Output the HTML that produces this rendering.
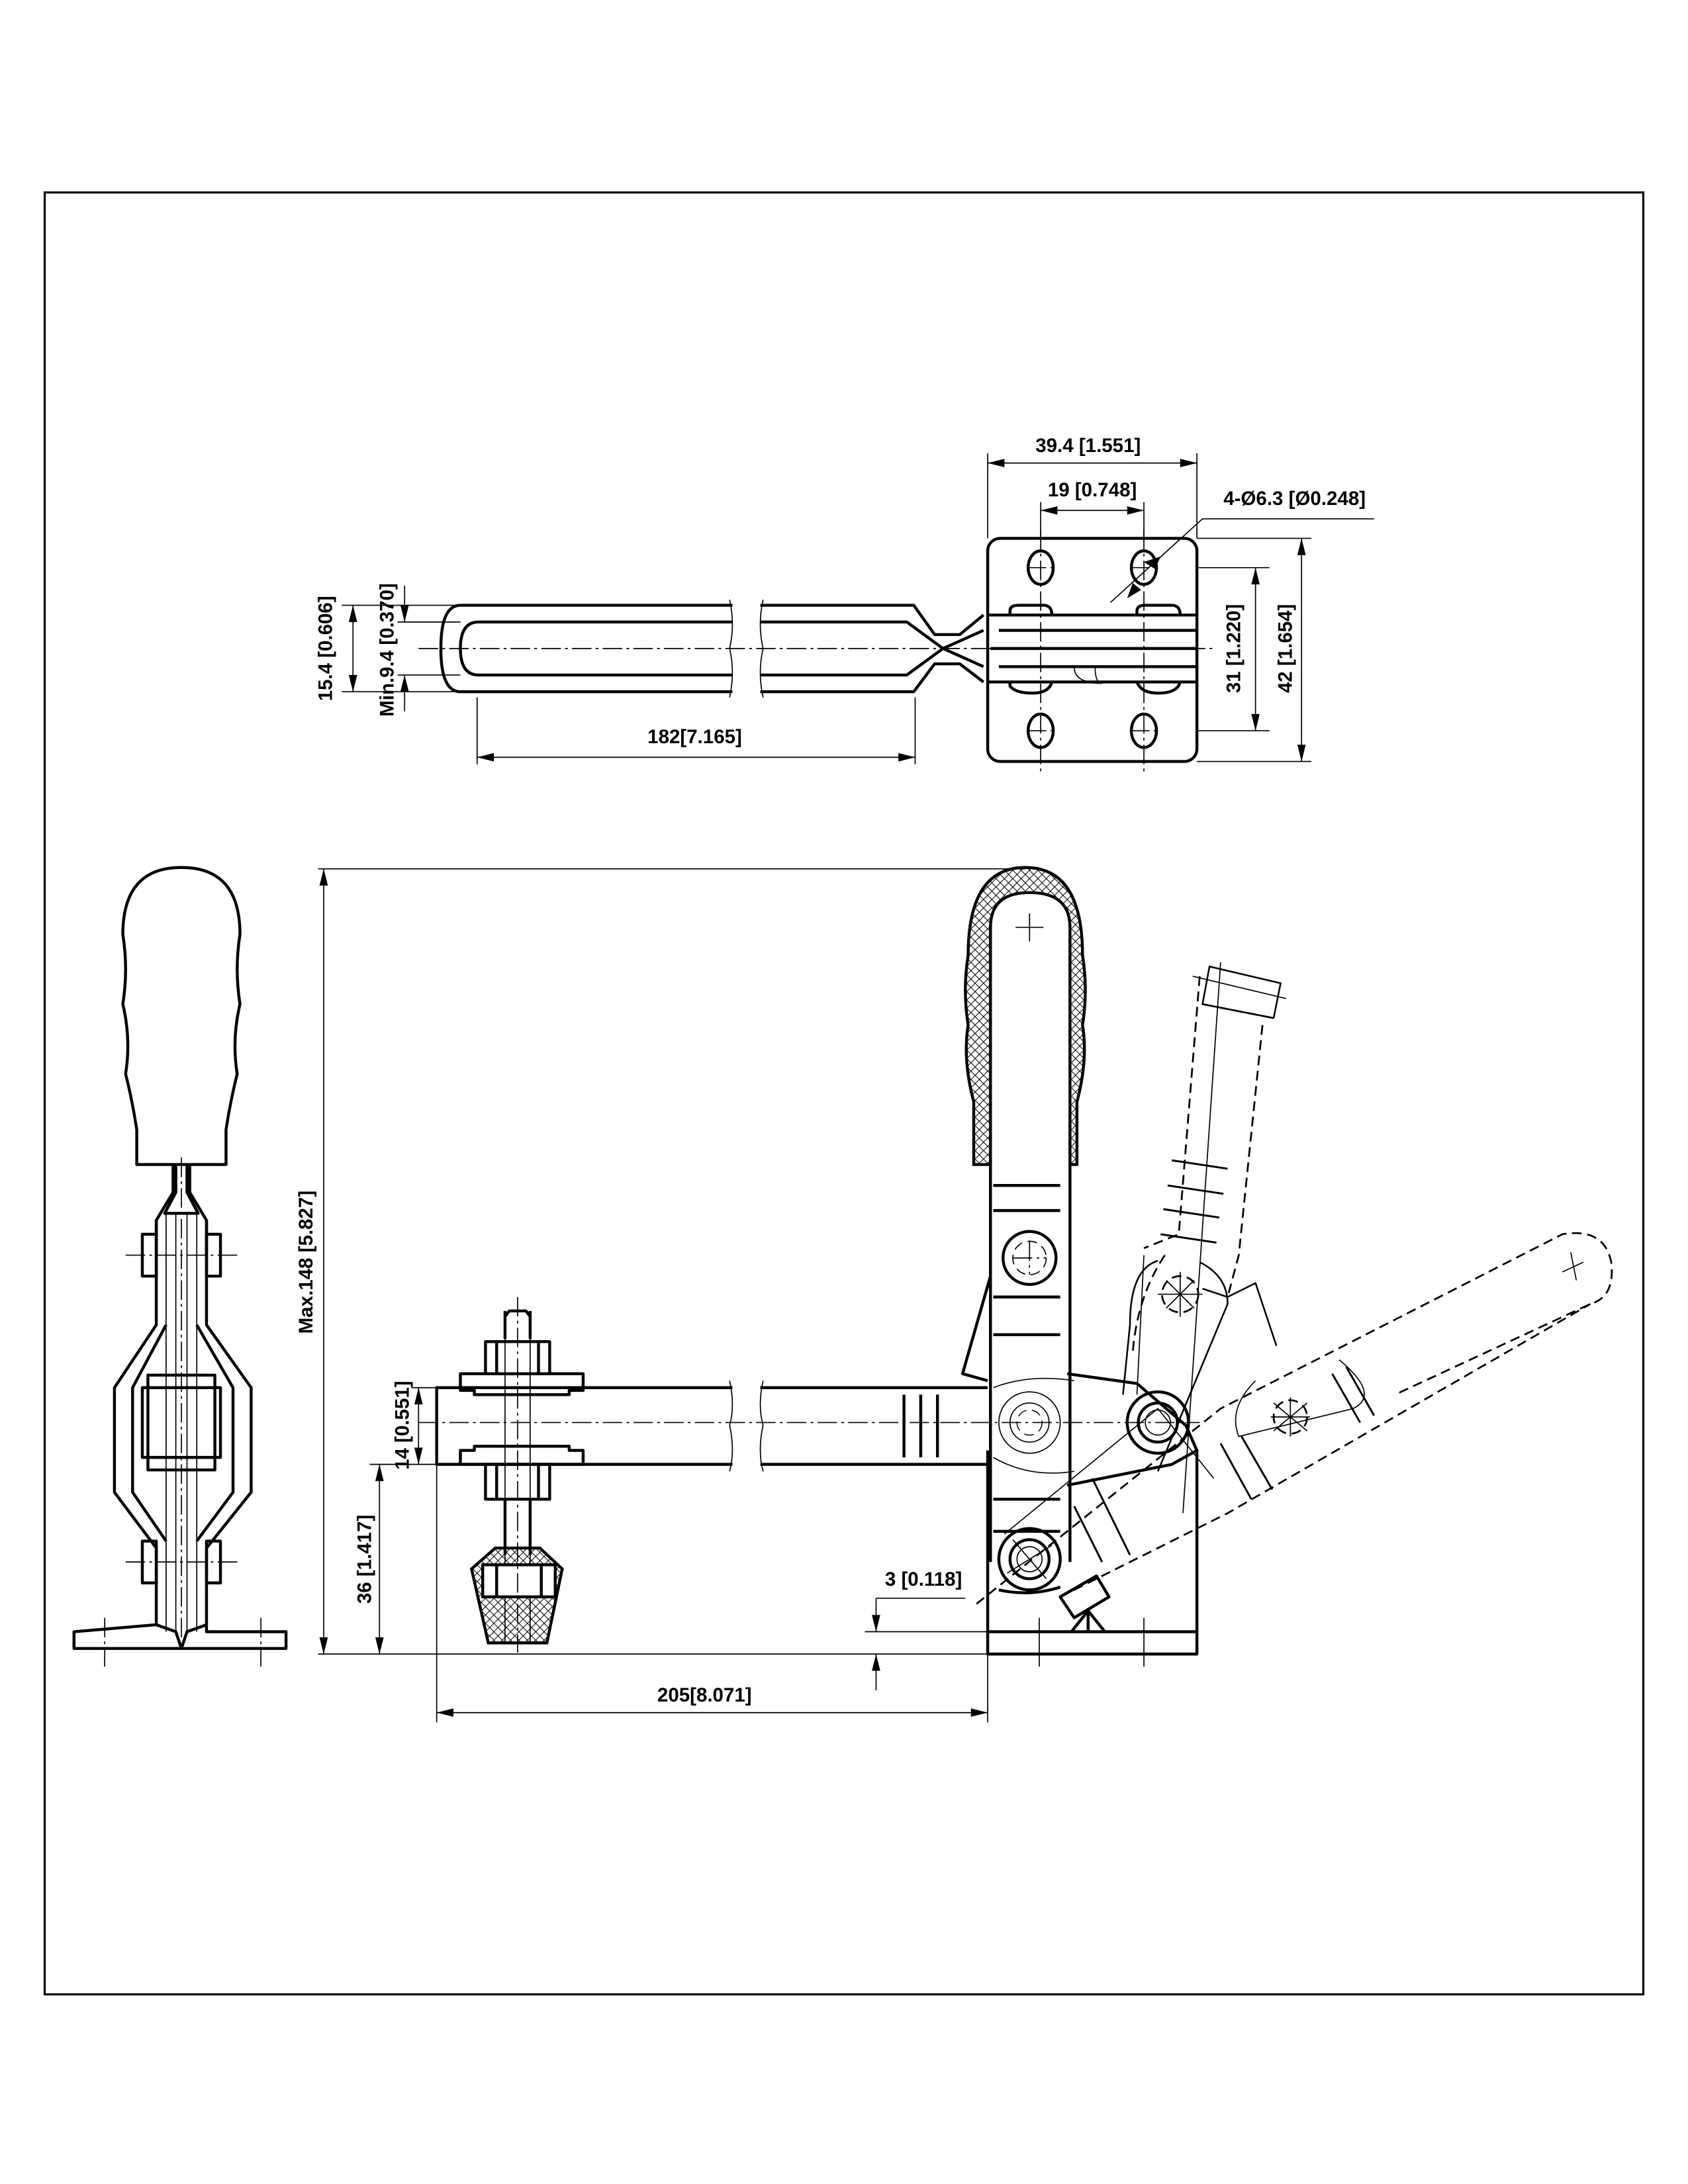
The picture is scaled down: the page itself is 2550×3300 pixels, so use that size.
<!DOCTYPE html>
<html><head><meta charset="utf-8"><style>
html,body{margin:0;padding:0;background:#fff}
svg{display:block}
text{font-family:"Liberation Sans",sans-serif;font-weight:bold;font-size:14px;fill:#000}
.k{fill:none;stroke:#000;stroke-width:2.1;stroke-linejoin:round}
.t{fill:none;stroke:#000;stroke-width:0.8}
.d{fill:none;stroke:#000;stroke-width:1.3;stroke-dasharray:7 4}
.c{fill:none;stroke:#000;stroke-width:0.8;stroke-dasharray:14 3 2 3}
.a{fill:#000;stroke:none}
</style></head><body>
<svg width="2550" height="3300" viewBox="0 0 1210 1566" xmlns="http://www.w3.org/2000/svg">
<defs>
<pattern id="x" width="6" height="6" patternUnits="userSpaceOnUse">
<path d="M0 0L6 6M6 0L0 6" stroke="#000" stroke-width="0.5"/></pattern>
</defs>
<rect x="32" y="138" width="1146" height="1292" fill="none" stroke="#000" stroke-width="1.5"/>

<!-- ===== TOP VIEW ===== -->
<rect x="708" y="386" width="150" height="160" rx="9" class="k"/>
<ellipse cx="746" cy="407" rx="9" ry="12" class="k"/><ellipse cx="820" cy="407" rx="9" ry="12" class="k"/>
<ellipse cx="746" cy="524" rx="9" ry="12" class="k"/><ellipse cx="820" cy="524" rx="9" ry="12" class="k"/>
<path d="M746 380V553M820 380V553M736 407H757M810 407H832M736 524H757M810 524H832" class="c"/>
<path d="M724 441V438Q724 434 730 434H748Q754 434 754 441M815 441V438Q815 434 821 434H840Q846 434 846 441" class="k"/>
<path d="M724 489V492Q728 497 740 497Q752 497 754 489M815 489Q818 497 830 497Q844 497 846 489" class="k"/>
<path d="M770 478Q770 490 790 490M785 478Q785 490 790 490" class="t"/>
<path d="M708 441H858M716 452H858M710 465H858M716 478H858M708 489H858" class="k"/>
<path d="M525 434H330Q316 434 316 465Q316 496 330 496H525" class="k"/>
<path d="M525 446H343Q330 446 330 465Q330 484 343 484H525" class="k"/>
<path d="M545 434H655L670 455H688L705 441M545 446H650L676 465L650 484H545M545 496H655L670 476H688L705 489" class="k"/>
<path d="M676 465L705 452M676 465L705 478" class="k"/>
<path d="M523 430Q527 448 523 465Q527 482 523 500M547 430Q543 448 547 465Q543 482 547 500" class="t"/>
<path d="M300 465H870" class="c"/>
<path d="M708 325V386M858 325V386M746 360V386M820 360V386" class="t"/>
<path d="M708 332H858M746 366H820" class="t"/>
<path class="a" d="M708 332l12-3v6zM858 332l-12-3v6zM746 366l12-3v6zM820 366l-12-3v6z"/>
<text x="780" y="324" text-anchor="middle">39.4 [1.551]</text>
<text x="783" y="356" text-anchor="middle">19 [0.748]</text>
<text x="928" y="362" text-anchor="middle">4-Ø6.3 [Ø0.248]</text>
<path d="M985 372H862L796 432" class="t"/>
<path class="a" d="M812 418l-4 11 10-6zM832 399l-12 4 8 5z"/>
<path d="M858 386H940M858 407H910M858 524H910M858 546H940" class="t"/>
<path d="M900 407V524M933 386V546" class="t"/>
<path class="a" d="M900 407l-3 12h6zM900 524l-3-12h6zM933 386l-3 12h6zM933 546l-3-12h6z"/>
<text transform="translate(889 465) rotate(-90)" text-anchor="middle">31 [1.220]</text>
<text transform="translate(926 465) rotate(-90)" text-anchor="middle">42 [1.654]</text>
<path d="M245 434H330M285 446H330M285 484H330M245 496H330" class="t"/>
<path d="M253 434V496M290 420V446M290 484V510" class="t"/>
<path class="a" d="M253 434l-3 12h6zM253 496l-3-12h6zM290 446l-3-12h6zM290 484l-3 12h6z"/>
<text transform="translate(238 465) rotate(-90)" text-anchor="middle">15.4 [0.606]</text>
<text transform="translate(282 466) rotate(-90)" text-anchor="middle">Min.9.4 [0.370]</text>
<path d="M342 500V548M656 500V548M342 543H656" class="t"/>
<path class="a" d="M342 543l12-3v6zM656 543l-12-3v6z"/>
<text x="498" y="533" text-anchor="middle">182[7.165]</text>

<!-- ===== SIDE VIEW ===== -->
<path d="M98 835V810Q95 790 90 770Q94 745 88 720Q92 695 88 670Q88 622 130 622Q172 622 172 670Q168 695 172 720Q166 745 170 770Q165 790 162 810V835Z" class="k"/>
<path d="M124 835V855L112 875V900M136 835V855L148 875V900M126 835V855L118 870H142L134 855V835" class="k"/>
<path d="M112 875V950L82 995V1070L112 1110V1165L53 1170V1182H205V1170H148V1110L180 1070V995L148 950V875" class="k"/>
<path d="M119 870V1170M126 870V1170M134 870V1170M141 870V1170" class="t"/>
<path d="M119 950L95 995V1070L119 1105M141 950L167 995V1070L141 1105" class="k"/>
<rect x="102" y="995" width="56" height="50" class="k"/>
<path d="M106 986H154V1054H106Z" class="k"/>
<path d="M102 885H112V915H102ZM148 885H158V915H148ZM102 1105H112V1135H102ZM148 1105H158V1135H148Z" class="k"/>
<path d="M90 900H170M90 1120H170M130 830V1175M75 1160V1195M187 1160V1195" class="c"/>
<path d="M112 1165L126 1170L130 1182M148 1165L134 1170L130 1182" class="k"/>

<!-- ===== MAIN ELEVATION ===== -->
<path d="M228 623H735M228 1186H708" class="t"/>
<path d="M232 623V1186" class="t"/>
<path class="a" d="M232 623l-3 12h6zM232 1186l-3-12h6z"/>
<text transform="translate(224 905) rotate(-90)" text-anchor="middle">Max.148 [5.827]</text>
<path d="M708 1040V1186H858V1040" class="k"/>
<path d="M708 1170H858" class="k"/>
<path d="M768 1170L780 1155L792 1170M780 1155V1170" class="k"/>
<path d="M745 1160V1195M820 1160V1195M708 1186V1235" class="t"/>
<path d="M698 835V790Q690 760 694 735Q690 710 694 685Q694 622 735 622Q776 622 776 685Q780 710 776 735Q780 760 772 790V835H767V665Q767 640 738 640Q710 640 710 665V835Z" fill="url(#x)" stroke="#000" stroke-width="2.1"/>
<path d="M728 665H748M738 655V675" class="t"/>
<path d="M710 835V1120M767 835V1120" class="k"/>
<path d="M712 850H760M712 868H760M712 930H760M712 957H760M712 1075H760M712 1098H760" class="k"/>
<circle cx="738" cy="902" r="19" class="k"/><circle cx="738" cy="902" r="12" class="d" style="stroke-width:0.8"/>
<path d="M726 902H750M738 890V914" class="c"/>
<circle cx="738" cy="1118" r="22" class="k"/><circle cx="738" cy="1118" r="14" class="k"/><circle cx="738" cy="1118" r="9" class="t"/>
<path d="M722 1128L754 1108M726 1104L750 1132" class="t"/>
<path d="M716 1140Q738 1145 760 1138" class="k"/>
<path d="M710 915L690 985L708 990" class="k"/>
<path d="M765 985L815 992L850 1022L858 1040L840 1050L765 1065" class="k"/>
<circle cx="830" cy="1020" r="22" class="k"/><circle cx="830" cy="1020" r="14" class="k"/><circle cx="830" cy="1020" r="9" class="t"/>
<path d="M712 995Q738 985 770 990M712 1045Q738 1060 770 1055" class="t"/>
<circle cx="738" cy="1020" r="22" class="t"/><circle cx="738" cy="1020" r="14" class="t"/><circle cx="738" cy="1020" r="9" class="d" style="stroke-width:0.7"/>
<path d="M525 995H313V1050H525M545 995H708M545 1050H708" class="k"/>
<path d="M523 990Q527 1008 523 1022Q527 1040 523 1055M547 990Q543 1008 547 1022Q543 1040 547 1055" class="t"/>
<path d="M648 1000V1045M660 1000V1045M672 1000V1045" class="k"/>
<path d="M300 1020H860" class="c"/>
<path d="M362 940V960M380 940V960M362 944L365 940H377L380 944" class="k"/>
<path d="M362 960V1178M380 960V1178" class="t"/>
<path d="M348 962H394V985H348ZM356 962V985M386 962V985" class="k"/>
<path d="M330 985H418V997H408V1000H340V997H330Z" class="k"/>
<path d="M330 1050H418V1040H408V1037H340V1040H330Z" class="k"/>
<path d="M348 1050H394V1075H348ZM356 1050V1075M386 1050V1075" class="k"/>
<path d="M362 1075V1115M380 1075V1115" class="k"/>
<path d="M355 1110L338 1125L350 1178H392L403 1125L387 1110Z" fill="url(#x)" stroke="#000" stroke-width="2.1"/>
<rect x="346" y="1122" width="52" height="23" fill="#fff" stroke="#000" stroke-width="2.1"/>
<path d="M356 1122V1145M388 1122V1145" class="k"/>
<path d="M371 930V1185" class="c"/>
<path d="M295 995H313M265 1050H313M300 995V1050M272 1050V1186" class="t"/>
<path class="a" d="M300 995l-3 12h6zM300 1050l-3-12h6zM272 1050l-3 12h6zM272 1186l-3-12h6z"/>
<text transform="translate(293 1022) rotate(-90)" text-anchor="middle">14 [0.551]</text>
<text transform="translate(266 1118) rotate(-90)" text-anchor="middle">36 [1.417]</text>
<path d="M313 1050V1235M313 1228H708" class="t"/>
<path class="a" d="M313 1228l12-3v6zM708 1228l-12-3v6z"/>
<text x="505" y="1220" text-anchor="middle">205[8.071]</text>
<path d="M628 1146H692M628 1146V1170M628 1186V1212M620 1170H708" class="t"/>
<path class="a" d="M628 1170l-3-12h6zM628 1186l-3 12h6z"/>
<text x="662" y="1137" text-anchor="middle">3 [0.118]</text>
<path d="M835 900Q815 930 812 970M860 700L845 885L820 895M905 735L888 900L880 930" class="d"/>
<path d="M867 693L918 705L913 730L862 720Z" class="k" style="stroke-width:1.2"/>
<path d="M862 720L913 730" class="d"/>
<path d="M855 700L922 716M875 690L848 1085" class="t"/>
<path d="M840 832L880 838M837 850L877 856M834 867L874 873M832 885L872 891" class="k" style="stroke-width:1.4"/>
<circle cx="846" cy="928" r="13" class="d"/>
<path d="M830 928H862M846 912V944M836 918L856 938M836 938L856 918" class="t"/>
<path d="M830 904Q810 910 810 950L805 1000M860 905Q880 915 880 935L830 1055M862 924L880 930L900 920L915 965" class="k" style="stroke-width:1.2"/>
<path d="M820 900L815 1000" class="t"/>
<path d="M700 1150L875 1010L1120 885Q1150 880 1155 905Q1158 930 1140 935L1000 1000M760 1145L880 1085L1140 935" class="d"/>
<path d="M900 990Q880 1010 888 1030L970 1010Q990 1000 960 975" class="t"/>
<circle cx="925" cy="1016" r="12" class="d"/>
<path d="M911 1016H939M925 1002V1030M913 1006L937 1026M913 1026L937 1006" class="t"/>
<path d="M1120 912L1135 905M1126 898L1130 918" class="t"/>
<path d="M875 1035L897 1075M890 1030L912 1068M955 985L975 1020M965 980L985 1015M783 1060L810 1115M770 1080L790 1120" class="k" style="stroke-width:1.4"/>
<path d="M760 1145L786 1130L795 1145L770 1160Z" class="k"/>
<path d="M720 1100L830 1010L870 1060" class="t"/>
</svg>
</body></html>
